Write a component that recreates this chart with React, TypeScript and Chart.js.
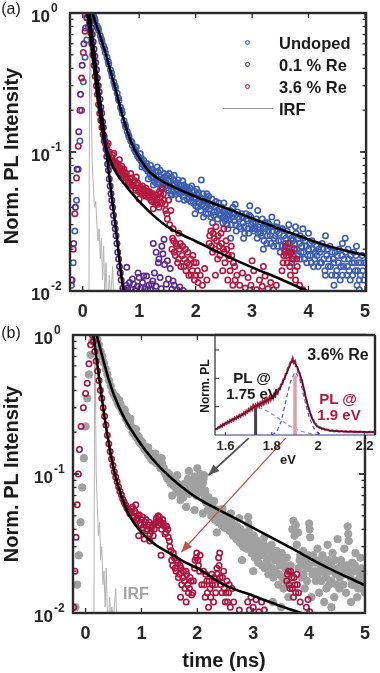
import React, { useEffect, useRef } from "react";
import { Chart, registerables } from "chart.js";

Chart.register(...registerables);

type P = [number, number];

const FONT = "'Liberation Sans', Arial, Helvetica, sans-serif";
Chart.defaults.font.family = FONT;

// ---------- tick values ----------
const timeTicks = [0, 1, 2, 3, 4, 5];
const decadeTicks = [1, 0.1, 0.01];
const energyTicks = [1.6, 1.8, 2.0, 2.2];
const insetYTicks = [1, 2, 3];

// ---------- panel (a) ----------
const aUndoped: P[] = [
  [-0.2, 0.011], [-0.17, 0.016], [-0.14, 0.027], [-0.11, 0.045], [-0.08, 0.075], [-0.05, 0.12], [-0.02, 0.2], [0.01, 0.32], [0.04, 0.48], [0.07, 0.64], [0.1, 0.8], [0.13, 0.92], [0.16, 0.99],
  [0.19, 0.96], [0.22, 0.88], [0.25, 0.81], [0.28, 0.75], [0.31, 0.69], [0.34, 0.62], [0.37, 0.58], [0.4, 0.52], [0.43, 0.48], [0.46, 0.43], [0.49, 0.39], [0.52, 0.35], [0.55, 0.32], [0.58, 0.29], [0.61, 0.265], [0.64, 0.235], [0.67, 0.21], [0.7, 0.19], [0.73, 0.168], [0.76, 0.152], [0.79, 0.14], [0.82, 0.128], [0.85, 0.12], [0.88, 0.112], [0.91, 0.105], [0.94, 0.1], [0.97, 0.094], [1.0, 0.09], [1.03, 0.087], [1.06, 0.082], [1.09, 0.08], [1.12, 0.076], [1.15, 0.073],
  [0.95, 0.108], [1.02, 0.097], [1.08, 0.087], [1.05, 0.078], [1.13, 0.083],
  [1.18, 0.074], [1.21, 0.066], [1.24, 0.07], [1.27, 0.061], [1.3, 0.067], [1.33, 0.072], [1.36, 0.06], [1.39, 0.064], [1.42, 0.058], [1.45, 0.066], [1.48, 0.055], [1.2, 0.08], [1.32, 0.078], [1.44, 0.07], [1.25, 0.058], [1.38, 0.055],
  [1.51, 0.062], [1.54, 0.057], [1.57, 0.066], [1.6, 0.052], [1.63, 0.059], [1.66, 0.054], [1.69, 0.063], [1.72, 0.05], [1.75, 0.057], [1.78, 0.048], [1.81, 0.055], [1.84, 0.052], [1.53, 0.07], [1.62, 0.068], [1.7, 0.046], [1.77, 0.062], [1.58, 0.049], [1.85, 0.046],
  [1.88, 0.05], [1.91, 0.044], [1.94, 0.052], [1.97, 0.047], [2.0, 0.041], [2.03, 0.049], [2.06, 0.044], [2.09, 0.038], [2.12, 0.046], [2.15, 0.041], [2.18, 0.036], [2.21, 0.045], [2.24, 0.039], [2.27, 0.034], [2.3, 0.042], [2.33, 0.037], [2.36, 0.044], [2.39, 0.033], [2.42, 0.039], [1.93, 0.057], [2.02, 0.054], [2.1, 0.063], [2.2, 0.05], [2.3, 0.031], [2.14, 0.034], [1.99, 0.036],
  [2.45, 0.036], [2.48, 0.031], [2.51, 0.038], [2.54, 0.033], [2.57, 0.028], [2.6, 0.035], [2.63, 0.03], [2.66, 0.04], [2.69, 0.032], [2.72, 0.027], [2.75, 0.034], [2.78, 0.029], [2.81, 0.036], [2.84, 0.031], [2.87, 0.026], [2.9, 0.033], [2.93, 0.028], [2.96, 0.041], [2.99, 0.03], [2.5, 0.043], [2.62, 0.024], [2.7, 0.042], [2.85, 0.024], [2.95, 0.035], [2.58, 0.037],
  [3.03, 0.027], [3.06, 0.031], [3.09, 0.024], [3.12, 0.029], [3.15, 0.026], [3.18, 0.033], [3.21, 0.023], [3.24, 0.028], [3.27, 0.025], [3.3, 0.03], [3.33, 0.022], [3.36, 0.027], [3.39, 0.024], [3.42, 0.029], [3.45, 0.021], [3.48, 0.026], [3.51, 0.023], [3.54, 0.028], [3.57, 0.02], [3.1, 0.038], [3.2, 0.02], [3.35, 0.034], [3.5, 0.019], [3.28, 0.031], [3.44, 0.031],
  [3.6, 0.024], [3.63, 0.021], [3.66, 0.025], [3.69, 0.019], [3.72, 0.023], [3.75, 0.02], [3.78, 0.026], [3.81, 0.018], [3.84, 0.022], [3.87, 0.019], [3.9, 0.024], [3.93, 0.017], [3.96, 0.021], [3.99, 0.018], [4.02, 0.022], [4.05, 0.016], [4.08, 0.02], [4.11, 0.017], [4.14, 0.021], [4.17, 0.015], [3.65, 0.03], [3.77, 0.029], [3.9, 0.028], [4.0, 0.026], [3.7, 0.016], [3.85, 0.025],
  [4.2, 0.019], [4.23, 0.016], [4.26, 0.02], [4.29, 0.014], [4.32, 0.018], [4.35, 0.015], [4.38, 0.021], [4.41, 0.013], [4.44, 0.017], [4.47, 0.019], [4.5, 0.014], [4.53, 0.016], [4.56, 0.012], [4.59, 0.018], [4.62, 0.015], [4.65, 0.024], [4.68, 0.013], [4.71, 0.017], [4.74, 0.012], [4.77, 0.016], [4.8, 0.019], [4.83, 0.014], [4.86, 0.011], [4.89, 0.016], [4.92, 0.013], [4.95, 0.018], [4.98, 0.012], [4.3, 0.025], [4.6, 0.022], [4.85, 0.021], [4.45, 0.011], [4.7, 0.02], [4.9, 0.0102],
];
const aUndopedMore: P[] = [
  [0.21, 0.92], [0.27, 0.78], [0.33, 0.65], [0.39, 0.55], [0.45, 0.45], [0.51, 0.37], [0.57, 0.3], [0.63, 0.245], [0.69, 0.2], [0.75, 0.158], [0.81, 0.133], [0.87, 0.118], [0.93, 0.103], [0.99, 0.092], [1.04, 0.09], [1.1, 0.078], [1.14, 0.078],
  [1.16, 0.064], [1.19, 0.069], [1.22, 0.075], [1.26, 0.065], [1.29, 0.072], [1.31, 0.059], [1.35, 0.068], [1.37, 0.074], [1.41, 0.063], [1.43, 0.061], [1.47, 0.06], [1.49, 0.068],
  [1.52, 0.053], [1.55, 0.061], [1.56, 0.05], [1.59, 0.058], [1.61, 0.063], [1.64, 0.05], [1.67, 0.06], [1.68, 0.052], [1.71, 0.058], [1.73, 0.054], [1.76, 0.051], [1.79, 0.058], [1.8, 0.045], [1.83, 0.056], [1.86, 0.054],
  [1.89, 0.047], [1.9, 0.055], [1.92, 0.049], [1.96, 0.043], [1.98, 0.052], [2.01, 0.046], [2.04, 0.04], [2.05, 0.051], [2.08, 0.047], [2.11, 0.042], [2.13, 0.05], [2.16, 0.044], [2.19, 0.04], [2.22, 0.036], [2.23, 0.048], [2.26, 0.041], [2.29, 0.046], [2.32, 0.035], [2.35, 0.04], [2.38, 0.038], [2.41, 0.043], [2.43, 0.035],
  [2.46, 0.04], [2.49, 0.034], [2.52, 0.032], [2.55, 0.037], [2.56, 0.03], [2.59, 0.033], [2.61, 0.038], [2.65, 0.034], [2.68, 0.036], [2.71, 0.03], [2.74, 0.037], [2.77, 0.033], [2.8, 0.028], [2.83, 0.034], [2.86, 0.029], [2.89, 0.036], [2.92, 0.032], [2.94, 0.026], [2.98, 0.034], [3.0, 0.028],
  [3.02, 0.031], [3.05, 0.028], [3.08, 0.033], [3.11, 0.026], [3.14, 0.03], [3.17, 0.025], [3.2, 0.029], [3.23, 0.031], [3.26, 0.022], [3.29, 0.027], [3.32, 0.025], [3.35, 0.029], [3.38, 0.021], [3.41, 0.025], [3.44, 0.027], [3.47, 0.023], [3.5, 0.028], [3.53, 0.021], [3.56, 0.025], [3.59, 0.022],
  [3.62, 0.027], [3.64, 0.019], [3.67, 0.022], [3.7, 0.024], [3.73, 0.018], [3.76, 0.022], [3.79, 0.02], [3.82, 0.024], [3.85, 0.017], [3.88, 0.021], [3.91, 0.019], [3.94, 0.023], [3.97, 0.016], [4.0, 0.02], [4.03, 0.018], [4.06, 0.023], [4.09, 0.015], [4.12, 0.019], [4.15, 0.018], [4.18, 0.02],
  [4.21, 0.016], [4.24, 0.022], [4.27, 0.017], [4.3, 0.013], [4.33, 0.02], [4.36, 0.017], [4.39, 0.015], [4.42, 0.019], [4.45, 0.016], [4.48, 0.013], [4.51, 0.018], [4.54, 0.02], [4.57, 0.015], [4.6, 0.013], [4.63, 0.017], [4.66, 0.019], [4.69, 0.015], [4.72, 0.014], [4.75, 0.018], [4.78, 0.013], [4.81, 0.016], [4.84, 0.018], [4.87, 0.014], [4.9, 0.012], [4.93, 0.016], [4.96, 0.014], [4.99, 0.016],
];

const aRe01: P[] = [
  [-0.19, 0.012], [-0.16, 0.022], [-0.13, 0.04], [-0.1, 0.075], [-0.07, 0.14], [-0.04, 0.26], [-0.01, 0.42], [0.02, 0.6], [0.05, 0.78], [0.08, 0.92], [0.11, 1.0],
  [0.14, 0.87], [0.17, 0.7], [0.2, 0.55], [0.23, 0.44], [0.26, 0.34], [0.29, 0.27], [0.32, 0.21], [0.35, 0.165], [0.38, 0.13], [0.41, 0.105], [0.44, 0.082], [0.47, 0.064], [0.5, 0.05], [0.53, 0.04], [0.56, 0.031], [0.59, 0.025], [0.62, 0.019], [0.65, 0.015], [0.68, 0.012], [0.71, 0.0105],
  [0.74, 0.0102], [0.77, 0.011], [0.8, 0.0105], [0.83, 0.0115], [0.86, 0.0103], [0.9, 0.0112], [0.93, 0.0101], [0.97, 0.0108], [1.0, 0.0125], [1.03, 0.0105], [1.06, 0.0115], [1.1, 0.0104], [1.13, 0.0128], [1.17, 0.011], [1.2, 0.0102], [1.24, 0.0118], [1.27, 0.0135], [1.3, 0.0108], [1.34, 0.016], [1.37, 0.0125], [1.4, 0.021], [1.42, 0.0185], [1.45, 0.0155], [1.48, 0.0112], [1.52, 0.0122], [1.55, 0.0145], [1.58, 0.0103], [1.62, 0.011], [1.67, 0.0102], [1.72, 0.0107], [1.78, 0.0101],
  [0.78, 0.0148], [0.98, 0.0135], [1.25, 0.022], [1.3, 0.019], [1.35, 0.017], [1.44, 0.0235],
  [0.155, 0.78], [0.185, 0.62], [0.215, 0.49], [0.245, 0.39], [0.275, 0.3], [0.305, 0.24], [0.335, 0.19], [0.365, 0.15], [0.395, 0.12], [0.425, 0.093], [0.455, 0.074], [0.485, 0.057], [0.515, 0.045], [0.545, 0.035], [0.575, 0.028], [0.605, 0.022], [0.635, 0.017], [0.665, 0.0135],
  [0.88, 0.0122], [1.08, 0.0128], [1.15, 0.0102], [1.22, 0.0112], [1.39, 0.0104], [1.5, 0.0165], [1.6, 0.0118],
];

const aRe36: P[] = [
  [-0.2, 0.012], [-0.17, 0.02], [-0.14, 0.036], [-0.11, 0.065], [-0.08, 0.11], [-0.05, 0.2], [-0.02, 0.34], [0.01, 0.52], [0.04, 0.74], [0.07, 0.93], [0.09, 1.0],
  [0.1, 0.97], [0.12, 0.85], [0.14, 0.72], [0.16, 0.6], [0.18, 0.5], [0.2, 0.42], [0.22, 0.35], [0.24, 0.3], [0.26, 0.26], [0.28, 0.22], [0.3, 0.19], [0.32, 0.17], [0.34, 0.15], [0.36, 0.135], [0.38, 0.12], [0.4, 0.115],
  [0.42, 0.108], [0.44, 0.1], [0.46, 0.095], [0.48, 0.088], [0.5, 0.092], [0.52, 0.083], [0.54, 0.087], [0.56, 0.079], [0.58, 0.082], [0.6, 0.076], [0.62, 0.08], [0.64, 0.073], [0.66, 0.077], [0.68, 0.07], [0.7, 0.074], [0.72, 0.068], [0.74, 0.071], [0.76, 0.065], [0.45, 0.115], [0.55, 0.098], [0.65, 0.088],
  [0.78, 0.066], [0.81, 0.061], [0.84, 0.064], [0.87, 0.058], [0.9, 0.061], [0.93, 0.055], [0.96, 0.058], [0.99, 0.052], [1.02, 0.056], [1.05, 0.05], [1.08, 0.054], [1.11, 0.048], [1.14, 0.052], [0.85, 0.07], [0.95, 0.066], [1.0, 0.046],
  [1.17, 0.047], [1.2, 0.051], [1.23, 0.044], [1.26, 0.048], [1.29, 0.042], [1.32, 0.046], [1.35, 0.04], [1.38, 0.05], [1.41, 0.055], [1.44, 0.045], [1.47, 0.038], [1.25, 0.039], [1.36, 0.052],
  [1.5, 0.033], [1.52, 0.045], [1.54, 0.03], [1.56, 0.038],
  [1.59, 0.024], [1.62, 0.019], [1.65, 0.022], [1.68, 0.016], [1.71, 0.02], [1.74, 0.015], [1.77, 0.021], [1.8, 0.017], [1.83, 0.014], [1.86, 0.019], [1.89, 0.0155], [1.92, 0.013], [1.95, 0.018], [1.98, 0.012], [2.01, 0.016], [2.04, 0.0115], [1.7, 0.026], [1.6, 0.028],
  [2.08, 0.013], [2.12, 0.011], [2.16, 0.0145], [2.2, 0.012],
  [2.24, 0.022], [2.27, 0.027], [2.3, 0.019], [2.33, 0.024], [2.36, 0.029], [2.39, 0.017], [2.42, 0.021], [2.45, 0.026], [2.48, 0.014], [2.51, 0.019], [2.54, 0.023], [2.57, 0.012], [2.6, 0.017], [2.63, 0.021], [2.66, 0.011], [2.69, 0.015], [2.35, 0.013], [2.5, 0.028],
  [2.73, 0.013], [2.78, 0.011], [2.83, 0.0135], [2.88, 0.0105], [2.93, 0.0125], [2.98, 0.011], [3.03, 0.014], [3.08, 0.0102], [3.13, 0.012], [3.18, 0.0108], [3.23, 0.0128], [3.28, 0.0104], [3.33, 0.0115], [3.38, 0.0102], [3.43, 0.011], [3.0, 0.0165], [3.2, 0.015],
  [3.53, 0.014], [3.56, 0.018], [3.59, 0.021], [3.62, 0.016], [3.65, 0.019], [3.68, 0.013], [3.71, 0.017], [3.74, 0.02], [3.77, 0.012], [3.8, 0.015], [3.84, 0.011], [3.9, 0.0102],
];
const aRe36More: P[] = [
  [0.43, 0.112], [0.47, 0.1], [0.51, 0.087], [0.53, 0.095], [0.57, 0.085], [0.61, 0.083], [0.63, 0.077], [0.67, 0.073], [0.69, 0.079], [0.71, 0.07], [0.73, 0.075], [0.77, 0.07],
  [0.8, 0.063], [0.83, 0.059], [0.86, 0.065], [0.89, 0.057], [0.92, 0.062], [0.94, 0.053], [0.97, 0.06], [1.0, 0.055], [1.03, 0.051], [1.06, 0.057], [1.09, 0.049], [1.12, 0.055], [1.15, 0.049],
  [1.18, 0.052], [1.21, 0.045], [1.24, 0.05], [1.27, 0.044], [1.3, 0.049], [1.33, 0.042], [1.37, 0.047], [1.4, 0.043], [1.43, 0.05], [1.46, 0.042], [1.49, 0.036],
  [1.58, 0.02], [1.61, 0.023], [1.64, 0.018], [1.67, 0.021], [1.7, 0.017], [1.73, 0.022], [1.76, 0.018], [1.79, 0.015], [1.82, 0.02], [1.85, 0.016], [1.88, 0.013], [1.91, 0.017], [1.94, 0.014], [1.97, 0.016], [2.0, 0.013], [2.03, 0.014],
  [2.25, 0.025], [2.28, 0.021], [2.31, 0.026], [2.34, 0.02], [2.37, 0.023], [2.4, 0.025], [2.43, 0.018], [2.46, 0.022], [2.49, 0.02], [2.52, 0.016], [2.55, 0.02], [2.58, 0.018], [2.61, 0.014], [2.64, 0.018], [2.67, 0.016], [2.7, 0.012],
  [3.55, 0.016], [3.58, 0.019], [3.61, 0.018], [3.64, 0.022], [3.67, 0.015], [3.7, 0.019], [3.73, 0.017], [3.76, 0.014], [3.79, 0.017],
];

const aIrf: P[] = [
  [-0.2, 0.008], [0.11, 0.009], [0.12, 0.3], [0.13, 1.0], [0.14, 0.6], [0.15, 0.2], [0.17, 0.08], [0.19, 0.055], [0.21, 0.04], [0.23, 0.044], [0.25, 0.03], [0.27, 0.023], [0.29, 0.028], [0.31, 0.017], [0.33, 0.024], [0.35, 0.012], [0.37, 0.021], [0.39, 0.009], [0.41, 0.016], [0.43, 0.01], [0.45, 0.008], [0.47, 0.013], [0.49, 0.009], [0.51, 0.011], [0.53, 0.015], [0.55, 0.008], [0.6, 0.007],
];

const aFitUndoped: P[] = [
  [0.17, 1], [0.3, 0.7], [0.4, 0.52], [0.5, 0.37], [0.575, 0.29], [0.65, 0.22], [0.75, 0.158], [0.865, 0.116], [1.0, 0.091], [1.17, 0.073], [1.4, 0.062], [1.7, 0.054], [2.04, 0.047], [2.5, 0.04], [3.2, 0.031], [3.7, 0.026], [4.36, 0.021], [5.02, 0.018],
];
const aFitRe01: P[] = [
  [0.12, 1], [0.2, 0.53], [0.3, 0.245], [0.4, 0.115], [0.5, 0.053], [0.6, 0.025], [0.7, 0.0115], [0.75, 0.0092],
];
const aFitRe36: P[] = [
  [0.08, 1], [0.12, 0.75], [0.16, 0.55], [0.2, 0.4], [0.25, 0.27], [0.3, 0.19], [0.35, 0.14], [0.4, 0.112], [0.5, 0.085], [0.6, 0.07], [0.75, 0.058], [0.9, 0.049], [1.05, 0.042], [1.25, 0.035], [1.5, 0.029], [1.75, 0.0255], [2.0, 0.0228], [2.5, 0.0182], [3.0, 0.0148], [3.5, 0.0122], [4.0, 0.0099], [4.1, 0.0095],
];

// ---------- panel (b) ----------
const bLow: P[] = [
  [-0.18, 0.011], [-0.15, 0.016], [-0.12, 0.026], [-0.09, 0.045], [-0.06, 0.08], [-0.03, 0.13], [0.0, 0.22], [0.03, 0.35], [0.06, 0.52], [0.09, 0.72], [0.12, 0.9], [0.15, 1.0],
  [0.18, 0.98], [0.21, 0.93], [0.24, 0.85], [0.27, 0.76], [0.3, 0.7], [0.33, 0.63], [0.36, 0.57], [0.39, 0.52], [0.42, 0.47], [0.45, 0.43], [0.48, 0.39], [0.51, 0.37],
  [0.54, 0.35], [0.57, 0.33], [0.6, 0.31], [0.63, 0.3], [0.66, 0.28], [0.69, 0.27], [0.72, 0.25], [0.75, 0.24], [0.78, 0.225], [0.81, 0.22], [0.84, 0.2], [0.87, 0.195], [0.9, 0.185], [0.93, 0.18], [0.96, 0.17], [0.99, 0.165], [1.02, 0.16], [1.05, 0.152], [1.08, 0.148], [0.6, 0.34], [0.7, 0.29], [0.8, 0.25], [0.9, 0.21],
  [1.11, 0.14], [1.14, 0.135], [1.17, 0.13], [1.2, 0.125], [1.23, 0.128], [1.26, 0.12], [1.29, 0.124], [1.32, 0.117], [1.35, 0.12], [1.38, 0.112], [1.12, 0.155], [1.25, 0.14], [1.36, 0.13],
  [1.41, 0.105], [1.44, 0.098], [1.47, 0.102], [1.5, 0.092], [1.53, 0.095], [1.56, 0.087], [1.59, 0.09], [1.62, 0.082], [1.65, 0.085], [1.68, 0.078], [1.71, 0.081], [1.74, 0.074], [1.64, 0.098], [1.55, 0.07], [1.7, 0.065],
  [1.77, 0.085], [1.8, 0.078], [1.83, 0.092], [1.86, 0.072], [1.89, 0.088], [1.92, 0.075], [1.95, 0.096], [1.98, 0.07], [2.01, 0.082], [2.04, 0.094], [2.07, 0.074], [2.1, 0.086], [2.13, 0.068], [1.85, 0.105], [2.0, 0.11], [2.05, 0.1], [2.12, 0.098], [1.8, 0.058], [1.95, 0.055], [2.1, 0.052],
  [2.16, 0.062], [2.19, 0.055], [2.22, 0.06], [2.25, 0.05], [2.28, 0.057], [2.31, 0.047], [2.34, 0.053], [2.37, 0.045], [2.4, 0.05], [2.43, 0.043], [2.46, 0.048], [2.49, 0.041], [2.52, 0.046], [2.2, 0.068], [2.3, 0.064], [2.45, 0.056], [2.35, 0.038],
  [2.55, 0.044], [2.58, 0.039], [2.61, 0.046], [2.64, 0.036], [2.67, 0.041], [2.7, 0.034], [2.73, 0.04], [2.76, 0.032], [2.79, 0.037], [2.82, 0.03], [2.85, 0.035], [2.88, 0.029], [2.91, 0.044], [2.91, 0.049], [2.92, 0.039], [2.94, 0.031], [2.97, 0.027], [3.0, 0.033], [3.03, 0.025], [3.06, 0.03], [3.09, 0.023], [3.12, 0.028], [2.6, 0.052], [2.75, 0.048], [2.8, 0.024], [3.0, 0.02],
  [3.15, 0.026], [3.18, 0.032], [3.21, 0.021], [3.24, 0.029], [3.27, 0.019], [3.3, 0.025], [3.33, 0.031], [3.36, 0.018], [3.39, 0.024], [3.42, 0.028], [3.45, 0.016], [3.48, 0.022], [3.51, 0.027], [3.54, 0.015], [3.57, 0.021], [3.6, 0.025], [3.63, 0.013], [3.66, 0.019], [3.2, 0.035], [3.35, 0.012], [3.5, 0.011],
  [3.7, 0.04], [3.72, 0.046], [3.74, 0.036], [3.76, 0.043], [3.78, 0.031], [3.8, 0.038], [3.83, 0.024], [3.86, 0.018], [3.89, 0.028], [3.92, 0.015], [3.95, 0.021], [3.98, 0.026], [4.0, 0.044], [4.01, 0.04], [4.02, 0.035], [4.04, 0.013], [4.06, 0.019],
  [4.09, 0.024], [4.12, 0.017], [4.15, 0.029], [4.18, 0.014], [4.21, 0.021], [4.24, 0.026], [4.27, 0.012], [4.3, 0.018], [4.33, 0.031], [4.36, 0.016], [4.39, 0.022], [4.42, 0.027], [4.45, 0.013], [4.48, 0.019], [4.51, 0.034], [4.54, 0.015], [4.57, 0.024], [4.6, 0.02], [4.63, 0.029], [4.66, 0.014], [4.69, 0.042], [4.7, 0.037], [4.71, 0.033], [4.74, 0.018], [4.77, 0.023], [4.8, 0.016], [4.83, 0.027], [4.86, 0.013], [4.89, 0.02], [4.92, 0.025], [4.95, 0.015], [4.98, 0.019], [4.4, 0.011], [4.75, 0.012],
];
const bLowMore: P[] = [
  [0.55, 0.36], [0.58, 0.32], [0.62, 0.32], [0.65, 0.3], [0.68, 0.28], [0.71, 0.27], [0.74, 0.26], [0.77, 0.24], [0.8, 0.23], [0.83, 0.215], [0.86, 0.21], [0.89, 0.2], [0.92, 0.19], [0.95, 0.185], [0.98, 0.175], [1.01, 0.17], [1.04, 0.16], [1.07, 0.155], [1.1, 0.15], [1.13, 0.145], [1.16, 0.14], [1.19, 0.135], [1.22, 0.13], [1.28, 0.13], [1.31, 0.125], [1.34, 0.11], [1.37, 0.118], [1.4, 0.11],
  [1.43, 0.1], [1.46, 0.093], [1.49, 0.1], [1.52, 0.086], [1.55, 0.09], [1.58, 0.082], [1.61, 0.088], [1.63, 0.076], [1.66, 0.08], [1.69, 0.072], [1.72, 0.078], [1.75, 0.068], [1.78, 0.075], [1.81, 0.085], [1.84, 0.08], [1.87, 0.09], [1.9, 0.082], [1.93, 0.09], [1.96, 0.08], [1.99, 0.086], [2.02, 0.075], [2.03, 0.09], [2.06, 0.082], [2.09, 0.078], [2.11, 0.092], [2.14, 0.076], [2.17, 0.065], [2.21, 0.058], [2.24, 0.064], [2.27, 0.052], [2.3, 0.056], [2.33, 0.05], [2.36, 0.055], [2.39, 0.046], [2.42, 0.052], [2.44, 0.045], [2.47, 0.05], [2.5, 0.044],
  [2.53, 0.041], [2.56, 0.047], [2.59, 0.042], [2.62, 0.038], [2.65, 0.043], [2.68, 0.038], [2.71, 0.042], [2.74, 0.035], [2.77, 0.04], [2.8, 0.034], [2.83, 0.038], [2.86, 0.032], [2.89, 0.036], [2.95, 0.034], [2.98, 0.03], [3.01, 0.036], [3.04, 0.028], [3.07, 0.033], [3.1, 0.026], [3.13, 0.031],
  [3.16, 0.022], [3.19, 0.027], [3.22, 0.03], [3.25, 0.024], [3.28, 0.022], [3.31, 0.028], [3.34, 0.021], [3.37, 0.026], [3.4, 0.02], [3.43, 0.024], [3.46, 0.019], [3.49, 0.025], [3.52, 0.018], [3.55, 0.023], [3.58, 0.017], [3.61, 0.021], [3.64, 0.016], [3.67, 0.022],
  [3.81, 0.021], [3.84, 0.026], [3.87, 0.022], [3.9, 0.019], [3.93, 0.024], [3.96, 0.017], [3.99, 0.021], [4.03, 0.023], [4.07, 0.026], [4.1, 0.02], [4.13, 0.023], [4.16, 0.019], [4.19, 0.024], [4.22, 0.017], [4.25, 0.02], [4.28, 0.022], [4.31, 0.015], [4.34, 0.024], [4.37, 0.02], [4.4, 0.017], [4.43, 0.021], [4.46, 0.024], [4.49, 0.016], [4.52, 0.021], [4.55, 0.018], [4.58, 0.022], [4.61, 0.016], [4.64, 0.019], [4.67, 0.022], [4.72, 0.02], [4.76, 0.016], [4.79, 0.02], [4.82, 0.022], [4.85, 0.017], [4.88, 0.015], [4.91, 0.018], [4.94, 0.021], [4.97, 0.017], [5.0, 0.014],
];

const bHigh: P[] = [
  [-0.21, 0.011], [-0.19, 0.02], [-0.17, 0.035], [-0.15, 0.06], [-0.13, 0.1], [-0.11, 0.15], [-0.08, 0.22], [-0.04, 0.3], [0.0, 0.38], [0.03, 0.45], [0.06, 0.62], [0.09, 0.85], [0.12, 1.0],
  [0.14, 0.9], [0.165, 0.76], [0.19, 0.65], [0.215, 0.55], [0.24, 0.47], [0.265, 0.4], [0.29, 0.35], [0.315, 0.3], [0.34, 0.26], [0.365, 0.225], [0.39, 0.19], [0.415, 0.165], [0.44, 0.145], [0.465, 0.128], [0.49, 0.115], [0.515, 0.104], [0.54, 0.095], [0.565, 0.088], [0.59, 0.081], [0.615, 0.075], [0.64, 0.071], [0.665, 0.066], [0.69, 0.063], [0.715, 0.06], [0.74, 0.057], [0.765, 0.055], [0.79, 0.052],
  [0.82, 0.056], [0.85, 0.05], [0.88, 0.054], [0.91, 0.047], [0.94, 0.05], [0.97, 0.044], [1.0, 0.047], [1.03, 0.041], [1.06, 0.045], [1.09, 0.039], [1.12, 0.043], [1.15, 0.037], [1.18, 0.041], [1.21, 0.036], [1.24, 0.044], [1.27, 0.048], [1.3, 0.043], [1.33, 0.046], [1.36, 0.04], [1.39, 0.044], [1.42, 0.037], [1.45, 0.042], [1.48, 0.035], [0.95, 0.036], [1.05, 0.034], [1.15, 0.033], [1.35, 0.026], [0.9, 0.06], [1.3, 0.05],
  [1.51, 0.03], [1.54, 0.024], [1.57, 0.027], [1.6, 0.021], [1.63, 0.024], [1.66, 0.018], [1.69, 0.022], [1.72, 0.016], [1.75, 0.02], [1.78, 0.015], [1.81, 0.019], [1.84, 0.014], [1.87, 0.018], [1.9, 0.0135], [1.93, 0.017], [1.96, 0.024], [1.99, 0.027], [2.02, 0.022], [2.05, 0.026], [2.08, 0.016], [1.7, 0.013], [1.8, 0.012],
  [2.11, 0.02], [2.14, 0.013], [2.17, 0.017], [2.2, 0.011], [2.23, 0.015], [2.26, 0.019], [2.29, 0.012], [2.32, 0.016], [2.35, 0.021], [2.38, 0.025], [2.41, 0.018], [2.44, 0.014], [2.47, 0.02], [2.5, 0.012], [2.53, 0.017], [2.56, 0.014], [2.59, 0.011], [2.62, 0.015], [2.65, 0.012], [2.4, 0.027],
  [2.75, 0.0105], [2.9, 0.012], [2.93, 0.0105], [2.96, 0.013], [3.0, 0.011], [3.05, 0.0125], [3.1, 0.0102], [3.15, 0.012], [3.2, 0.0105],
  [3.6, 0.017], [3.63, 0.02], [3.66, 0.015], [3.69, 0.018], [3.72, 0.013], [3.75, 0.016], [3.78, 0.019], [3.81, 0.014], [3.84, 0.012], [3.95, 0.011], [3.98, 0.0125], [4.01, 0.0102],
];
const bHighMore: P[] = [
  [0.81, 0.054], [0.84, 0.058], [0.87, 0.049], [0.9, 0.052], [0.93, 0.048], [0.96, 0.051], [0.99, 0.043], [1.02, 0.049], [1.05, 0.043], [1.08, 0.047], [1.11, 0.04], [1.14, 0.045], [1.17, 0.039], [1.2, 0.043], [1.23, 0.04], [1.26, 0.045], [1.29, 0.046], [1.32, 0.049], [1.35, 0.044], [1.38, 0.047], [1.41, 0.042], [1.44, 0.038], [1.47, 0.04], [1.5, 0.033],
  [1.53, 0.028], [1.56, 0.022], [1.59, 0.025], [1.62, 0.02], [1.65, 0.023], [1.68, 0.019], [1.71, 0.021], [1.74, 0.018], [1.77, 0.017], [1.8, 0.02], [1.83, 0.016], [1.86, 0.015], [1.89, 0.017], [1.92, 0.014], [1.95, 0.021], [1.98, 0.025], [2.01, 0.024], [2.04, 0.02],
  [2.12, 0.016], [2.15, 0.019], [2.18, 0.014], [2.21, 0.017], [2.24, 0.013], [2.27, 0.016], [2.3, 0.018], [2.33, 0.014], [2.36, 0.019], [2.39, 0.022], [2.42, 0.016], [2.45, 0.018], [2.48, 0.015], [2.51, 0.014], [2.54, 0.012], [2.57, 0.016],
  [3.61, 0.019], [3.64, 0.016], [3.67, 0.02], [3.7, 0.015], [3.73, 0.018], [3.76, 0.014], [3.79, 0.016],
];

const bIrf: P[] = [
  [-0.2, 0.008], [0.15, 0.009], [0.16, 0.4], [0.17, 1.0], [0.18, 0.3], [0.19, 0.1], [0.21, 0.06], [0.23, 0.036], [0.25, 0.045], [0.27, 0.024], [0.29, 0.03], [0.31, 0.016], [0.33, 0.02], [0.35, 0.011], [0.37, 0.021], [0.39, 0.01], [0.41, 0.009], [0.43, 0.013], [0.45, 0.009], [0.47, 0.011], [0.5, 0.009], [0.52, 0.012], [0.54, 0.015], [0.56, 0.008],
];

const bFitLow: P[] = [
  [0.2, 1], [0.3, 0.7], [0.4, 0.5], [0.52, 0.36], [0.7, 0.25], [0.98, 0.166], [1.2, 0.128], [1.4, 0.105], [1.7, 0.082], [2.0, 0.067], [2.55, 0.051], [3.1, 0.039], [3.7, 0.029], [4.3, 0.0215], [5.0, 0.0158],
];
const bFitHigh: P[] = [
  [0.14, 1], [0.2, 0.66], [0.3, 0.33], [0.4, 0.18], [0.5, 0.11], [0.6, 0.078], [0.7, 0.06], [0.8, 0.049], [1.0, 0.038], [1.25, 0.031], [1.5, 0.027], [1.75, 0.0235], [2.0, 0.021], [2.5, 0.0158], [3.0, 0.0133], [3.5, 0.0112], [4.0, 0.0096],
];

// arrows from the inset markers to the decay curves (data coordinates of panel b)
const arrowLow: P[] = [[2.92, 0.181], [2.197, 0.098]];
const arrowHigh: P[] = [[3.58, 0.181], [1.713, 0.0274]];

// ---------- inset (PL spectrum) ----------
const insetSpectrum: P[] = [
  [1.555, 0.2], [1.565, 0.22], [1.57, 0.28], [1.575, 0.26], [1.58, 0.33], [1.585, 0.3], [1.59, 0.38], [1.595, 0.35], [1.6, 0.43], [1.605, 0.4], [1.61, 0.47], [1.615, 0.44], [1.62, 0.52], [1.625, 0.48], [1.63, 0.56], [1.635, 0.52], [1.64, 0.61], [1.645, 0.57], [1.65, 0.65], [1.655, 0.61], [1.66, 0.7], [1.665, 0.65], [1.67, 0.74], [1.675, 0.7], [1.68, 0.8], [1.685, 0.74], [1.69, 0.85], [1.695, 0.8], [1.7, 0.91], [1.705, 0.86], [1.71, 0.97], [1.715, 0.9], [1.72, 1.04], [1.725, 0.96], [1.73, 1.06], [1.735, 0.99], [1.74, 1.1], [1.745, 1.02], [1.75, 1.14], [1.755, 1.06], [1.76, 1.19], [1.765, 1.1], [1.77, 1.24], [1.775, 1.15], [1.78, 1.28], [1.785, 1.19], [1.79, 1.33], [1.795, 1.24], [1.8, 1.38], [1.805, 1.3], [1.81, 1.44], [1.815, 1.38], [1.82, 1.52], [1.825, 1.47], [1.83, 1.63], [1.835, 1.62], [1.84, 1.78], [1.845, 1.8], [1.85, 1.96], [1.855, 1.98], [1.86, 2.16], [1.865, 2.18], [1.87, 2.36], [1.875, 2.4], [1.88, 2.56], [1.885, 2.58], [1.89, 2.7], [1.895, 2.55], [1.9, 2.6], [1.905, 2.42], [1.91, 2.4], [1.915, 2.22], [1.92, 2.18], [1.925, 2.0], [1.93, 1.93], [1.935, 1.74], [1.94, 1.58], [1.945, 1.38], [1.95, 1.22], [1.955, 1.05], [1.96, 0.92], [1.965, 0.78], [1.97, 0.68], [1.975, 0.56], [1.98, 0.5], [1.985, 0.41], [1.99, 0.38], [1.995, 0.31], [2.0, 0.3], [2.005, 0.26], [2.01, 0.26], [2.015, 0.22], [2.02, 0.23], [2.03, 0.19], [2.04, 0.19], [2.05, 0.15], [2.06, 0.16], [2.07, 0.13], [2.08, 0.15], [2.09, 0.12], [2.1, 0.14], [2.11, 0.12], [2.12, 0.13], [2.13, 0.11], [2.14, 0.13], [2.15, 0.11], [2.16, 0.12], [2.17, 0.1], [2.18, 0.12], [2.19, 0.1], [2.2, 0.11], [2.21, 0.09], [2.22, 0.11], [2.23, 0.1], [2.245, 0.1],
];
const insetFit: P[] = [
  [1.555, 0.2], [1.6, 0.41], [1.643, 0.59], [1.685, 0.77], [1.727, 1.0], [1.77, 1.18], [1.8, 1.32], [1.827, 1.53], [1.855, 2.0], [1.876, 2.41], [1.89, 2.62], [1.905, 2.47], [1.926, 2.05], [1.947, 1.3], [1.968, 0.71], [1.99, 0.35], [2.025, 0.21], [2.067, 0.14], [2.14, 0.12], [2.245, 0.1],
];
const insetCompLow: P[] = [
  [1.555, 0.2], [1.6, 0.38], [1.65, 0.6], [1.7, 0.85], [1.73, 0.97], [1.76, 0.93], [1.8, 0.75], [1.84, 0.52], [1.88, 0.3], [1.92, 0.15], [1.96, 0.06], [2.0, 0.02],
];
const insetCompHigh: P[] = [
  [1.8, 0.0], [1.82, 0.1], [1.84, 0.47], [1.86, 1.18], [1.88, 1.88], [1.9, 2.22], [1.92, 2.0], [1.94, 1.3], [1.96, 0.65], [1.98, 0.25], [2.0, 0.06], [2.02, 0.0],
];
const insetMarkLow: P[] = [[1.73, 0], [1.73, 0.97]];
const insetMarkHigh: P[] = [[1.9, 0], [1.9, 2.1]];

// ---------- colours ----------
const C_BLUE = "#3c5db0";
const C_PURPLE = "#5b2a8c";
const C_RED = "#b5183f";
const C_GREY = "#a0a0a0";
const C_IRF = "#b3b3b3";
const C_AXIS = "#2a2a2a";

const xy = (a: P[]) => a.map(([x, y]) => ({ x, y }));

const openPts = (a: P[], color: string, order: number) => ({
  data: xy(a),
  showLine: false,
  pointRadius: 2.7,
  pointBorderWidth: 1.6,
  borderWidth: 1.6,
  pointBorderColor: color,
  borderColor: color,
  pointBackgroundColor: "rgba(255,255,255,0)",
  backgroundColor: "rgba(255,255,255,0)",
  order,
});

const filledPts = (a: P[], color: string, order: number) => ({
  data: xy(a),
  showLine: false,
  pointRadius: 3.7,
  pointBorderWidth: 1,
  borderWidth: 1,
  pointBorderColor: color,
  borderColor: color,
  pointBackgroundColor: color,
  backgroundColor: color,
  order,
});

const curve = (a: P[], color: string, width: number, order: number, extra: any = {}) => ({
  data: xy(a),
  showLine: true,
  pointRadius: 0,
  pointHitRadius: 0,
  borderColor: color,
  backgroundColor: color,
  borderWidth: width,
  fill: false,
  order,
  ...extra,
});

function seg(ctx: CanvasRenderingContext2D, x1: number, y1: number, x2: number, y2: number) {
  ctx.beginPath();
  ctx.moveTo(x1, y1);
  ctx.lineTo(x2, y2);
  ctx.stroke();
}

const mainDecor = {
  id: "mainDecor",
  afterDatasetsDraw(chart: any) {
    const { ctx, chartArea: ca } = chart;
    const xs = chart.scales.x;
    const ys = chart.scales.y;
    ctx.save();
    ctx.strokeStyle = C_AXIS;
    ctx.lineWidth = 1.3;
    for (let k = -2; k < 0; k++) {
      for (let m = 1; m <= 10; m++) {
        const v = m * Math.pow(10, k);
        const py = ys.getPixelForValue(v);
        const len = m === 1 || m === 10 ? 6 : 3.5;
        seg(ctx, ca.left, py, ca.left + len, py);
        seg(ctx, ca.right, py, ca.right - len, py);
      }
    }
    for (const t of timeTicks) {
      const px = xs.getPixelForValue(t);
      seg(ctx, px, ca.bottom, px, ca.bottom - 5);
      seg(ctx, px, ca.top, px, ca.top + 5);
    }
    ctx.lineWidth = 2.4;
    ctx.strokeRect(ca.left, ca.top, ca.right - ca.left, ca.bottom - ca.top);

    ctx.fillStyle = "#262626";
    for (const v of decadeTicks) {
      const py = ys.getPixelForValue(v);
      const xr = ca.left - 20;
      ctx.font = `bold 17px ${FONT}`;
      ctx.textAlign = "right";
      ctx.textBaseline = "middle";
      ctx.fillText("10", xr, py + 4);
      ctx.font = `bold 12px ${FONT}`;
      ctx.textAlign = "left";
      ctx.fillText(String(Math.round(Math.log10(v))), xr + 1, py - 4);
    }

    chart.data.datasets.forEach((ds: any, i: number) => {
      if (!ds.arrowHead) return;
      const pts = chart.getDatasetMeta(i).data;
      const a = pts[pts.length - 2];
      const b = pts[pts.length - 1];
      const ang = Math.atan2(b.y - a.y, b.x - a.x);
      const L = 11;
      const W = 4.5;
      ctx.fillStyle = ds.borderColor;
      ctx.beginPath();
      ctx.moveTo(b.x, b.y);
      ctx.lineTo(b.x - L * Math.cos(ang) + W * Math.sin(ang), b.y - L * Math.sin(ang) - W * Math.cos(ang));
      ctx.lineTo(b.x - L * Math.cos(ang) - W * Math.sin(ang), b.y - L * Math.sin(ang) + W * Math.cos(ang));
      ctx.closePath();
      ctx.fill();
    });
    ctx.restore();
  },
};

const insetDecor = {
  id: "insetDecor",
  beforeDatasetsDraw(chart: any) {
    const { ctx, chartArea: ca } = chart;
    ctx.save();
    ctx.fillStyle = "#ffffff";
    ctx.fillRect(ca.left, ca.top, ca.right - ca.left, ca.bottom - ca.top);
    ctx.restore();
  },
  afterDatasetsDraw(chart: any) {
    const { ctx, chartArea: ca } = chart;
    const xs = chart.scales.x;
    const ys = chart.scales.y;
    ctx.save();
    ctx.strokeStyle = C_AXIS;
    ctx.lineWidth = 1;
    for (const v of insetYTicks) {
      const py = ys.getPixelForValue(v);
      seg(ctx, ca.left, py, ca.left + 4, py);
    }
    for (const e of energyTicks) {
      const px = xs.getPixelForValue(e);
      seg(ctx, px, ca.bottom, px, ca.bottom - 3);
    }
    ctx.lineWidth = 1.2;
    seg(ctx, ca.left, ca.top, ca.left, ca.bottom);
    ctx.strokeStyle = "#2d3f86";
    seg(ctx, ca.left, ca.bottom, ca.right, ca.bottom);
    ctx.strokeStyle = C_AXIS;
    ctx.lineWidth = 2.4;
    seg(ctx, ca.left, ca.top, ca.right, ca.top);
    seg(ctx, ca.right, ca.top, ca.right, ca.bottom);
    ctx.restore();
  },
};

function timeAxis(min: number, max: number, h: number, pad: number) {
  return {
    type: "linear",
    min,
    max,
    grid: { display: false, drawTicks: false },
    border: { display: false },
    afterBuildTicks: (s: any) => {
      s.ticks = timeTicks.map((v) => ({ value: v }));
    },
    afterFit: (s: any) => {
      s.height = h;
    },
    ticks: {
      padding: pad,
      color: "#262626",
      font: { size: 18, weight: "bold", family: FONT },
      callback: (v: any) => String(v),
    },
  };
}

function Txt(props: any) {
  const { x, y, size, bold = true, color = "#1a1a1a", rot = false, left = false, children } = props;
  const tr = left ? "translate(0,-50%)" : `translate(-50%,-50%)${rot ? " rotate(-90deg)" : ""}`;
  return (
    <div
      style={{
        position: "absolute",
        left: x,
        top: y,
        transform: tr,
        fontFamily: FONT,
        fontSize: size,
        fontWeight: bold ? 700 : 400,
        color,
        whiteSpace: "nowrap",
        lineHeight: 1,
      }}
    >
      {children}
    </div>
  );
}

function Marker({ x, y, color }: any) {
  return (
    <div
      style={{
        position: "absolute",
        left: x - 3.2,
        top: y - 3.2,
        width: 3.6,
        height: 3.6,
        borderRadius: "50%",
        border: `1.5px solid ${color}`,
      }}
    />
  );
}

export default function App() {
  const refA = useRef<HTMLCanvasElement>(null);
  const refB = useRef<HTMLCanvasElement>(null);
  const refI = useRef<HTMLCanvasElement>(null);

  useEffect(() => {
    const common = {
      animation: false,
      responsive: false,
      events: [],
      plugins: { legend: { display: false }, tooltip: { enabled: false } },
    };

    const chartA = new Chart(refA.current as HTMLCanvasElement, {
      type: "scatter",
      data: {
        datasets: [
          curve(aIrf, C_IRF, 1, 6, { tension: 0 }),
          openPts(aUndoped.concat(aUndopedMore), C_BLUE, 5),
          openPts(aRe36.concat(aRe36More), C_RED, 4),
          openPts(aRe01, C_PURPLE, 3),
          curve(aFitUndoped, "#000", 2.6, 1, { cubicInterpolationMode: "monotone" }),
          curve(aFitRe36, "#000", 2.6, 1, { cubicInterpolationMode: "monotone" }),
          curve(aFitRe01, "#000", 2.6, 1, { cubicInterpolationMode: "monotone" }),
        ] as any,
      },
      options: {
        ...common,
        layout: { padding: { left: 70, right: 9, top: 13, bottom: 0 } },
        scales: {
          x: timeAxis(-0.226, 5.02, 31, 10),
          y: { type: "logarithmic", min: 0.01, max: 1, display: false },
        },
      } as any,
      plugins: [mainDecor],
    });

    const chartB = new Chart(refB.current as HTMLCanvasElement, {
      type: "scatter",
      data: {
        datasets: [
          curve(bIrf, C_IRF, 1, 6, { tension: 0 }),
          filledPts(bLow.concat(bLowMore), C_GREY, 5),
          openPts(bHigh.concat(bHighMore), "#ad1440", 4),
          curve(bFitLow, "#000", 2.6, 2, { cubicInterpolationMode: "monotone" }),
          curve(bFitHigh, "#000", 2.6, 2, { cubicInterpolationMode: "monotone" }),
          curve(arrowLow, "#555555", 1.8, 0, { arrowHead: true }),
          curve(arrowHigh, "#c0504d", 1.3, 0, { arrowHead: true }),
        ] as any,
      },
      options: {
        ...common,
        layout: { padding: { left: 73, right: 5, top: 15, bottom: 0 } },
        scales: {
          x: timeAxis(-0.225, 5.0, 60, 10),
          y: { type: "logarithmic", min: 0.01, max: 1, display: false },
        },
      } as any,
      plugins: [mainDecor],
    });

    const chartI = new Chart(refI.current as HTMLCanvasElement, {
      type: "scatter",
      data: {
        datasets: [
          curve(insetCompLow, "#9a9a9a", 1.2, 5, { borderDash: [4, 3] }),
          curve(insetCompHigh, "#4a5fb8", 1.2, 5, { borderDash: [4, 3] }),
          curve(insetMarkLow, "#454545", 3, 4, { borderCapStyle: "butt" }),
          curve(insetMarkHigh, "#e59da2", 3.5, 4, { borderCapStyle: "butt" }),
          curve(insetSpectrum, C_RED, 2.2, 2, { tension: 0 }),
          curve(insetFit, "#1a1a1a", 0.9, 1, { cubicInterpolationMode: "monotone" }),
        ] as any,
      },
      options: {
        ...common,
        layout: { padding: { left: 25, right: 5, top: 10, bottom: 0 } },
        scales: {
          x: {
            type: "linear",
            min: 1.555,
            max: 2.245,
            grid: { display: false, drawTicks: false },
            border: { display: false },
            afterBuildTicks: (s: any) => {
              s.ticks = energyTicks.map((v) => ({ value: v }));
            },
            afterFit: (s: any) => {
              s.height = 35;
            },
            ticks: {
              padding: 4,
              color: "#262626",
              font: { size: 13, weight: "bold", family: FONT },
              callback: (v: any) => (Math.abs(v - 2) < 1e-9 ? "2" : Number(v).toFixed(1)),
            },
          },
          y: { type: "linear", min: 0, max: 3.53, display: false },
        },
      } as any,
      plugins: [insetDecor],
    });

    return () => {
      chartA.destroy();
      chartB.destroy();
      chartI.destroy();
    };
  }, []);

  return (
    <div
      style={{
        position: "fixed",
        left: 0,
        top: 0,
        width: 380,
        height: 673,
        background: "#ffffff",
        overflow: "hidden",
      }}
    >
      <canvas ref={refA} width={380} height={322} style={{ position: "absolute", left: 0, top: 0 }} />
      <canvas ref={refB} width={380} height={353} style={{ position: "absolute", left: 0, top: 320 }} />
      <canvas ref={refI} width={190} height={145} style={{ position: "absolute", left: 190, top: 325 }} />

      <Txt x={11} y={9} size={16} bold={false}>(a)</Txt>
      <Txt x={11} y={333} size={16} bold={false}>(b)</Txt>

      <Txt x={11} y={156} size={20} rot>Norm. PL Intensity</Txt>
      <Txt x={11} y={474} size={20} rot>Norm. PL Intensity</Txt>
      <Txt x={224} y={660} size={20}>time (ns)</Txt>

      <Marker x={248} y={43} color={C_BLUE} />
      <Marker x={248} y={65} color={C_PURPLE} />
      <Marker x={248} y={87} color={C_RED} />
      <div style={{ position: "absolute", left: 223, top: 108, width: 50, height: 1, background: "#9a9a9a" }} />
      <Txt x={279} y={43} size={16.5} left>Undoped</Txt>
      <Txt x={279} y={65} size={16.5} left>0.1 % Re</Txt>
      <Txt x={279} y={87} size={16.5} left>3.6 % Re</Txt>
      <Txt x={279} y={109} size={16.5} left>IRF</Txt>

      <Txt x={136} y={594} size={16} color="#a3a3a3">IRF</Txt>

      <Txt x={205} y={386} size={12} rot>Norm. PL</Txt>
      <Txt x={288} y={459} size={13}>eV</Txt>
      <Txt x={338} y={355} size={16}>3.6% Re</Txt>
      <Txt x={252} y={377} size={15}>PL @</Txt>
      <Txt x={252} y={393} size={15}>1.75 eV</Txt>
      <Txt x={338} y={398} size={15} color={C_RED}>PL @</Txt>
      <Txt x={339} y={414} size={15} color={C_RED}>1.9 eV</Txt>
    </div>
  );
}
